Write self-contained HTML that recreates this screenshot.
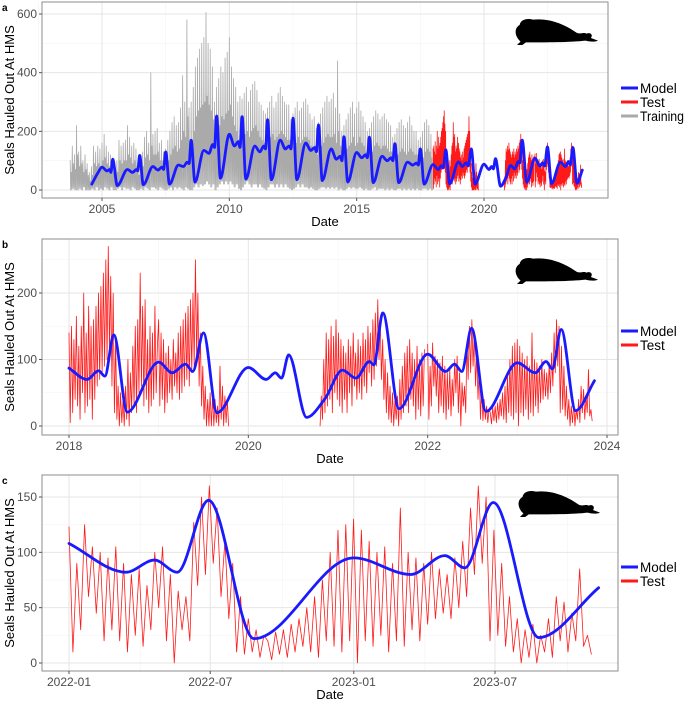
<!DOCTYPE html>
<html><head><meta charset="utf-8">
<style>
html,body{margin:0;padding:0;background:#fff;}
svg{display:block;font-family:"Liberation Sans",sans-serif;}
</style></head>
<body>
<svg id="chart" width="685" height="702" viewBox="0 0 685 702" xmlns="http://www.w3.org/2000/svg"></svg>
<script>
// ---------- DATA ----------
const trainStart = 2003.75;
const trainMax = [100,150,120,
220,130,150,100,120,90,60,80,150,130,150,140,
160,190,150,130,120,100,80,100,170,150,160,170,
220,180,150,160,140,90,110,130,180,200,160,400,
190,200,210,160,170,130,140,170,200,230,250,220,
230,280,390,300,580,280,300,350,420,450,480,500,
520,605,500,480,420,300,350,380,420,400,450,470,
520,420,380,350,300,320,310,330,350,300,340,360,
370,340,300,290,270,260,280,300,320,280,300,330,
350,320,300,290,290,240,260,280,300,270,280,300,
310,290,260,240,250,210,230,260,280,300,320,300,
310,330,280,440,260,200,220,240,260,280,300,260,
280,300,270,250,230,200,210,230,250,270,260,240,
250,260,240,230,220,180,190,210,230,240,220,210,
230,250,220,200,200,170,180,200,230,240,220,190];
const trainMid = [60,90,70,
120,80,90,60,70,50,30,50,90,80,90,80,
100,110,90,80,70,60,40,60,100,90,100,100,
120,110,90,100,80,50,60,80,110,120,100,150,
120,120,130,100,100,80,80,100,120,140,150,130,
140,170,200,180,250,150,170,200,250,270,280,290,
300,320,290,270,240,170,200,220,250,240,260,270,
290,250,220,200,170,180,180,190,200,180,200,210,
220,200,180,170,160,150,160,180,190,170,180,190,
200,190,180,170,170,140,150,160,180,160,170,180,
180,170,150,140,150,120,130,150,160,180,190,180,
180,190,160,200,150,110,120,140,150,160,180,150,
160,180,160,150,130,110,120,130,150,160,150,140,
150,150,140,130,130,100,110,120,130,140,130,120,
130,140,130,120,120,100,100,110,130,140,130,110];
const trainMin = [0,5,0,
0,5,0,10,0,0,0,5,0,10,0,5,
0,10,5,0,10,0,0,5,10,0,10,5,
5,0,10,5,0,0,5,0,10,5,0,10,
10,5,0,10,5,0,0,5,10,0,10,5,
10,5,0,10,5,0,0,10,20,10,20,15,
20,30,20,10,20,0,10,20,30,20,30,20,
30,20,10,20,5,0,10,20,30,20,10,20,
20,10,20,10,5,0,10,20,20,10,20,10,
20,10,20,10,5,0,5,10,20,10,20,10,
10,5,10,5,0,0,5,10,10,5,10,5,
10,5,10,0,5,0,0,5,10,5,10,5,
5,10,5,0,5,0,0,5,10,0,5,5,
5,0,5,0,5,0,0,5,5,0,5,0,
5,0,5,0,5,0,0,5,5,0,5,0];
const testStep = 5/365.25;
const test2018Start = 2018.0;
const test2018 = [140,5,150,20,130,40,165,30,120,10,150,50,200,20,140,30,180,40,
150,10,160,40,180,60,200,70,210,80,230,90,250,100,270,110,225,60,
200,20,130,10,60,0,50,5,40,0,60,10,100,0,80,20,120,30,
150,20,160,50,230,60,180,30,190,40,130,20,150,30,140,40,180,50,120,
160,30,140,40,130,20,110,35,120,50,100,40,130,60,110,50,140,40,
150,50,160,60,170,70,180,60,190,80,200,90,250,100,200,60,140,30,
90,10,60,0,40,0,50,0,45,0,40,5,30,0,90,10,60,0,45,5,40,0];
const test2020Start = 2020.8;
const test2020 = [0,45,10,100,20,140,30,130,40,150,20,135,50,160,40,
140,30,130,20,120,40,110,20,130,50,120,30,140,60,110,40,130,50,
120,40,140,60,130,50,150,80,140,60,160,70,170,90,190,100,160,70,
130,40,100,20,80,10,60,5,50,0,40,10,45,0,70,10,90,20,
110,30,120,20,130,40,110,30,100,10,120,25,100,15,110,30,115];
const test2022Start = 2022.0;
const test2022 = [123,10,90,30,125,60,105,45,100,20,95,30,105,20,90,10,80,25,
85,15,70,30,100,50,105,20,80,0,65,30,60,20,127,70,150,80,
160,90,140,60,110,40,90,10,60,8,40,10,30,5,25,
20,3,28,8,30,5,35,10,40,15,50,10,60,5,75,20,100,15,120,10,125,20,
130,0,120,20,110,15,100,25,105,10,90,20,140,15,100,30,95,20,
90,35,100,40,85,45,80,40,95,50,110,60,140,80,160,90,150,20,
120,25,90,15,60,10,40,0,30,5,35,0,25,10,40,5,60,20,
55,10,45,20,85,15,25,8];
const modelX = [2004.6,2004.85,2005.0,2005.2,2005.3,2005.35,2005.42,2005.6,
2006.0,2006.2,2006.35,2006.4,2006.48,2006.62,
2007.0,2007.2,2007.35,2007.42,2007.5,2007.65,
2008.0,2008.2,2008.35,2008.42,2008.5,2008.65,
2009.0,2009.2,2009.35,2009.42,2009.5,2009.65,
2010.0,2010.2,2010.35,2010.42,2010.5,2010.65,
2011.0,2011.2,2011.35,2011.42,2011.5,2011.65,
2012.0,2012.2,2012.35,2012.42,2012.5,2012.65,
2013.0,2013.2,2013.35,2013.42,2013.5,2013.65,
2014.0,2014.2,2014.35,2014.42,2014.5,2014.65,
2015.0,2015.2,2015.35,2015.42,2015.5,2015.65,
2016.0,2016.2,2016.35,2016.42,2016.5,2016.65,
2017.0,2017.2,2017.35,2017.42,2017.5,2017.65,
2018.0,2018.2,2018.33,2018.4,2018.5,2018.65,
2019.0,2019.15,2019.3,2019.38,2019.5,2019.65,
2020.0,2020.2,2020.3,2020.37,2020.45,2020.65,2020.85,
2021.05,2021.2,2021.35,2021.4,2021.5,2021.68,
2022.0,2022.2,2022.3,2022.38,2022.49,2022.65,
2023.0,2023.2,2023.32,2023.39,2023.49,2023.65,2023.86];
const modelY = [20,60,78,65,70,60,105,15,
70,60,70,65,118,18,
80,68,78,70,130,20,
85,80,95,90,170,27,
135,125,155,145,252,40,
190,150,165,145,250,37,
150,130,150,140,240,35,
170,140,150,140,245,35,
160,135,145,130,222,32,
140,105,115,100,182,27,
128,110,120,110,180,25,
115,100,110,100,158,25,
95,85,92,85,140,20,
87,70,83,75,137,21,
96,80,93,82,140,20,
88,70,80,72,107,13,40,
84,72,97,92,170,26,
108,82,93,82,147,22,
95,80,97,86,145,23,68];
const ticksA = [2005,2010,2015,2020];
const ticksAY = [0,200,400,600];
const ticksB = [2018,2020,2022,2024];
const ticksBY = [0,100,200];
const ticksCLabels = ["2022-01","2022-07","2023-01","2023-07"];
const ticksCX = [2022.0,2022.496,2023.0,2023.496];
const ticksCY = [0,50,100,150];

// ---------- DRAWING ----------
const NS="http://www.w3.org/2000/svg";
const svg=document.getElementById('chart');
function mk(tag,attrs,parent){const e=document.createElementNS(NS,tag);for(const k in attrs)e.setAttribute(k,attrs[k]);(parent||svg).appendChild(e);return e;}

function seriesPts(start,vals){const out=[];vals.forEach((v,i)=>out.push([start+i*testStep,v]));return out;}
function trainPts(){const out=[];trainMax.forEach((v,i)=>{const x=trainStart+i/12;
  out.push([x,v]);out.push([x+1/48,trainMin[i]]);out.push([x+2/48,trainMid[i]]);out.push([x+3/48,trainMin[i]]);});return out;}

function monotonePath(pts){
  const n=pts.length;if(n<2)return '';
  const dx=[],dy=[],m=[];
  for(let i=0;i<n-1;i++){dx.push(pts[i+1][0]-pts[i][0]);dy.push(pts[i+1][1]-pts[i][1]);m.push(dy[i]/dx[i]);}
  const t=[m[0]];
  for(let i=1;i<n-1;i++){ if(m[i-1]*m[i]<=0)t.push(0); else {const w1=2*dx[i]+dx[i-1],w2=dx[i]+2*dx[i-1];t.push((w1+w2)/(w1/m[i-1]+w2/m[i]));}}
  t.push(m[n-2]);
  let d='M'+pts[0][0].toFixed(2)+','+pts[0][1].toFixed(2);
  for(let i=0;i<n-1;i++){const h=dx[i]/3;
    d+='C'+(pts[i][0]+h).toFixed(2)+','+(pts[i][1]+h*t[i]).toFixed(2)+' '+(pts[i+1][0]-h).toFixed(2)+','+(pts[i+1][1]-h*t[i+1]).toFixed(2)+' '+pts[i+1][0].toFixed(2)+','+pts[i+1][1].toFixed(2);}
  return d;
}

const sealD="M12,9 C13,3 20,1 27,3 C45,1 62,8 76,18 C80,20 84,17 87,19 C91,17 95,20 92,24 L100,27 C96,29 90,28 86,27 C70,29 40,29 19,29 L15,32 L9,32 L13,28 C8,24 4,14 12,9 Z";

function panel(cfg){
  const g=mk('g',{});
  
  
  const X=v=>cfg.x0px+(v-cfg.x0)*(cfg.x1px-cfg.x0px)/(cfg.x1-cfg.x0);
  const Y=v=>cfg.y0px+(v-cfg.y0)*(cfg.y1px-cfg.y0px)/(cfg.y1-cfg.y0);
  const L=cfg.box[0],T=cfg.box[1],R=cfg.box[2],B=cfg.box[3];
  const grid=mk('g',{},g);
  cfg.minorX.forEach(v=>mk('line',{x1:X(v),x2:X(v),y1:T,y2:B,stroke:'#f3f3f3','stroke-width':0.6},grid));
  cfg.minorY.forEach(v=>mk('line',{x1:L,x2:R,y1:Y(v),y2:Y(v),stroke:'#f3f3f3','stroke-width':0.6},grid));
  cfg.xt.forEach(v=>mk('line',{x1:X(v),x2:X(v),y1:T,y2:B,stroke:'#e6e6e6','stroke-width':1},grid));
  cfg.yt.forEach(v=>mk('line',{x1:L,x2:R,y1:Y(v),y2:Y(v),stroke:'#e6e6e6','stroke-width':1},grid));
  const clipId='clip-'+cfg.name;
  const cp=mk('clipPath',{id:clipId},g);mk('rect',{x:L,y:T,width:R-L,height:B-T},cp);
  const data=mk('g',{'clip-path':'url(#'+clipId+')'},g);
  cfg.series.forEach(s=>{
    const pts=s.pts.filter(p=>p[0]>=cfg.xmin&&p[0]<=cfg.xmax).map(p=>[X(p[0]),Y(p[1])]);
    let d;
    if(s.smooth)d=monotonePath(pts);else d='M'+pts.map(p=>p[0].toFixed(2)+','+p[1].toFixed(2)).join('L');
    const p=mk('path',{d:d,fill:'none',stroke:s.color,'stroke-width':s.w,'stroke-linejoin':'round','stroke-linecap':'round'},data);
    
    
  });
  mk('rect',{x:L,y:T,width:R-L,height:B-T,fill:'none',stroke:'#8c8c8c','stroke-width':1},g);
  cfg.xt.forEach((v,i)=>{mk('line',{x1:X(v),x2:X(v),y1:B,y2:B+3,stroke:'#555'},g);
    const t=mk('text',{x:X(v),y:B+15,'text-anchor':'middle','font-size':12,fill:'#4d4d4d'},g);t.textContent=cfg.xl[i];
    });
  cfg.yt.forEach(v=>{mk('line',{x1:L-3,x2:L,y1:Y(v),y2:Y(v),stroke:'#555'},g);
    const t=mk('text',{x:L-5,y:Y(v)+4,'text-anchor':'end','font-size':12,fill:'#4d4d4d'},g);t.textContent=v;
    });
  const xt=mk('text',{x:(L+R)/2,y:cfg.xTitleY,'text-anchor':'middle','font-size':13,fill:'#000'},g);xt.textContent='Date';
  
  const cy=(T+B)/2;
  const yt=mk('text',{x:14,y:cy,'text-anchor':'middle','font-size':13,fill:'#000',transform:'rotate(-90 14 '+cy+')'},g);yt.textContent='Seals Hauled Out At HMS';
  
  const lb=mk('text',{x:2,y:T+9,'font-size':10,'font-weight':'bold',fill:'#000'},g);lb.textContent=cfg.letter;
  
  const s=mk('path',{d:sealD,fill:'#000',transform:'translate('+cfg.seal[0]+','+cfg.seal[1]+') scale('+(cfg.seal[2]/100)+','+(cfg.seal[3]/32)+')'},g);
  
  cfg.legend.forEach((e,i)=>{
    const lg=mk('g',{},g);
    const yy=cfg.legY+i*14;
    mk('line',{x1:621,x2:638,y1:yy,y2:yy,stroke:e[1],'stroke-width':3},lg);
    const t=mk('text',{x:640,y:yy+5,'font-size':13.5,fill:'#000'},lg);t.textContent=e[0];
    if(e[0]==='Training'){t.setAttribute('textLength','44');t.setAttribute('lengthAdjust','spacingAndGlyphs');}
  });
}

const modelPts=modelX.map((x,i)=>[x,modelY[i]]);
const testAll=[seriesPts(test2018Start,test2018),seriesPts(test2020Start,test2020),seriesPts(test2022Start,test2022)];

panel({name:'panel-a',letter:'a',box:[42,2,608,198],x0:2005,x1:2020,x0px:102,x1px:484,y0:0,y1:600,y0px:190,y1px:14,
  xmin:2000,xmax:2030,xt:ticksA,xl:ticksA,yt:ticksAY,minorX:[2002.5,2007.5,2012.5,2017.5,2022.5],minorY:[100,300,500],
  xTitleY:226,seal:[509,17,89,28],legY:88,
  legend:[['Model','#1a1aff'],['Test','#ff1a1a'],['Training','#aaaaaa']],
  series:[{key:'training',pts:trainPts(),color:'#aaaaaa',w:0.8},
    ...testAll.map((p,i)=>({key:'test-'+i,pts:p,color:'#ff1a1a',w:0.8})),
    {key:'model',pts:modelPts,color:'#1a1aff',w:2.8,smooth:true}]});

panel({name:'panel-b',letter:'b',box:[42,239,618,435],x0:2018,x1:2024,x0px:69,x1px:607,y0:0,y1:200,y0px:426,y1px:293,
  xmin:2017.9,xmax:2024.5,xt:ticksB,xl:ticksB,yt:ticksBY,minorX:[2019,2021,2023],minorY:[50,150,250],
  xTitleY:463,seal:[509,256,89,28],legY:331,
  legend:[['Model','#1a1aff'],['Test','#ff1a1a']],
  series:[...testAll.map((p,i)=>({key:'test-'+i,pts:p,color:'#ff1a1a',w:0.8})),
    {key:'model',pts:modelPts,color:'#1a1aff',w:2.8,smooth:true}]});

panel({name:'panel-c',letter:'c',box:[42,475,618,671],x0:2022.0,x1:2023.496,x0px:69,x1px:495,y0:0,y1:150,y0px:663,y1px:497,
  xmin:2021.99,xmax:2024.5,xt:ticksCX,xl:ticksCLabels,yt:ticksCY,minorX:[2021.75,2022.25,2022.75,2023.25,2023.75],minorY:[25,75,125],
  xTitleY:699,seal:[512,489,88,28],legY:567,
  legend:[['Model','#1a1aff'],['Test','#ff1a1a']],
  series:[...testAll.map((p,i)=>({key:'test-'+i,pts:p,color:'#ff1a1a',w:0.8})),
    {key:'model',pts:modelPts,color:'#1a1aff',w:2.8,smooth:true}]});
</script>
</body></html>
